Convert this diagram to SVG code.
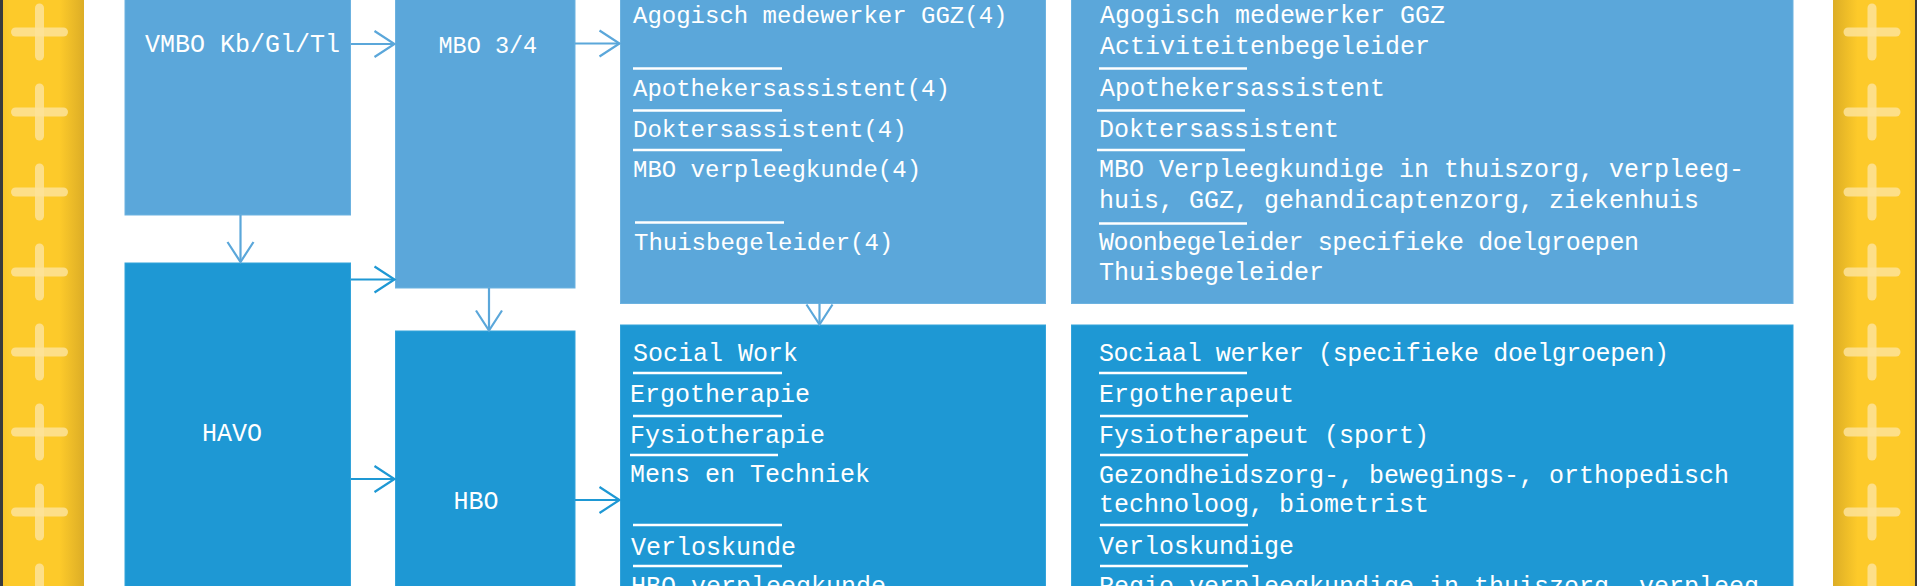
<svg xmlns="http://www.w3.org/2000/svg" width="1917" height="586" viewBox="0 0 1917 586">
  <defs>
    <style>
      .light { fill: #5ba7da; stroke: #6cb2e0; stroke-width: 1; }
      .dark { fill: #1e98d4; stroke: #33a3da; stroke-width: 1; }
      .t { font-family: "Liberation Mono", "DejaVu Sans Mono", monospace; font-size: 25px; fill: #ffffff; }
      .s24 { font-size: 24px; }
      .sep { stroke: #ffffff; stroke-width: 2.5; }
      .cl { fill: none; stroke: #5ba7da; stroke-width: 2.2; }
      .cd { fill: none; stroke: #1e98d4; stroke-width: 2.2; }
      .plus { stroke: #fde39a; stroke-width: 9; stroke-linecap: round; opacity: 0.85; }
    </style>
    <linearGradient id="gL" x1="0" y1="0" x2="1" y2="0">
      <stop offset="0" stop-color="#f8c42a"/>
      <stop offset="0.08" stop-color="#fdca2a"/>
      <stop offset="0.7" stop-color="#fdca2a"/>
      <stop offset="1" stop-color="#dcad26"/>
    </linearGradient>
    <linearGradient id="gR" x1="1" y1="0" x2="0" y2="0">
      <stop offset="0" stop-color="#f8c42a"/>
      <stop offset="0.08" stop-color="#fdca2a"/>
      <stop offset="0.7" stop-color="#fdca2a"/>
      <stop offset="1" stop-color="#dcad26"/>
    </linearGradient>
    <marker id="aL" markerUnits="userSpaceOnUse" markerWidth="30" markerHeight="30" viewBox="-25 -15 30 30" refX="0" refY="0" orient="auto">
      <path d="M-20,-13 L0,0 L-20,13" fill="none" stroke="#5ba7da" stroke-width="2.2"/>
    </marker>
    <marker id="aD" markerUnits="userSpaceOnUse" markerWidth="30" markerHeight="30" viewBox="-25 -15 30 30" refX="0" refY="0" orient="auto">
      <path d="M-20,-13 L0,0 L-20,13" fill="none" stroke="#1e98d4" stroke-width="2.2"/>
    </marker>
    <g id="plusCol">
      <line class="plus" x1="0" y1="-24" x2="0" y2="24"/>
      <line class="plus" x1="-24" y1="0" x2="24" y2="0"/>
    </g>
  </defs>

  <rect x="0" y="0" width="1917" height="586" fill="#ffffff"/>

  <g id="strip-left">
    <rect x="0" y="0" width="3" height="586" fill="#3a3a3c"/>
    <rect x="3" y="0" width="81" height="586" fill="url(#gL)"/>
    <use href="#plusCol" x="39.5" y="32"/>
    <use href="#plusCol" x="39.5" y="112"/>
    <use href="#plusCol" x="39.5" y="192"/>
    <use href="#plusCol" x="39.5" y="272"/>
    <use href="#plusCol" x="39.5" y="352"/>
    <use href="#plusCol" x="39.5" y="432"/>
    <use href="#plusCol" x="39.5" y="512"/>
    <use href="#plusCol" x="39.5" y="592"/>
  </g>

  <g id="strip-right">
    <rect x="1833" y="0" width="82" height="586" fill="url(#gR)"/>
    <rect x="1915" y="0" width="2" height="586" fill="#3a3a3c"/>
    <use href="#plusCol" x="1872" y="32"/>
    <use href="#plusCol" x="1872" y="112"/>
    <use href="#plusCol" x="1872" y="192"/>
    <use href="#plusCol" x="1872" y="272"/>
    <use href="#plusCol" x="1872" y="352"/>
    <use href="#plusCol" x="1872" y="432"/>
    <use href="#plusCol" x="1872" y="512"/>
    <use href="#plusCol" x="1872" y="592"/>
  </g>

  <g id="vmbo">
    <rect class="light" x="125" y="-10" width="225.5" height="225"/>
    <text class="t" x="145" y="51.5">VMBO Kb/Gl/Tl</text>
  </g>

  <g id="havo">
    <rect class="dark" x="125" y="263" width="225.5" height="340"/>
    <text class="t" x="202" y="440.5">HAVO</text>
  </g>

  <g id="mbo">
    <rect class="light" x="395.5" y="-10" width="179.5" height="298"/>
    <text class="t" x="438.5" y="52.5" style="font-size:23.5px">MBO 3/4</text>
  </g>

  <g id="hbo">
    <rect class="dark" x="395.5" y="331" width="179.5" height="270"/>
    <text class="t" x="453.5" y="509">HBO</text>
  </g>

  <g id="mbo-opleidingen">
    <rect class="light" x="620.5" y="-10" width="425" height="313.5"/>
    <text class="t s24" x="633" y="22.5">Agogisch medewerker GGZ(4)</text>
    <line class="sep" x1="633" y1="68.5" x2="782" y2="68.5"/>
    <text class="t s24" x="633" y="96">Apothekersassistent(4)</text>
    <line class="sep" x1="633" y1="110.5" x2="782" y2="110.5"/>
    <text class="t s24" x="633" y="136.5">Doktersassistent(4)</text>
    <line class="sep" x1="633" y1="150" x2="782" y2="150"/>
    <text class="t s24" x="633" y="176.5">MBO verpleegkunde(4)</text>
    <line class="sep" x1="635" y1="222.5" x2="784" y2="222.5"/>
    <text class="t s24" x="634" y="250">Thuisbegeleider(4)</text>
  </g>

  <g id="mbo-beroepen">
    <rect class="light" x="1071.5" y="-10" width="721.5" height="313.5"/>
    <text class="t" x="1100" y="22.5">Agogisch medewerker GGZ</text>
    <text class="t" x="1100" y="54">Activiteitenbegeleider</text>
    <line class="sep" x1="1099" y1="68.5" x2="1247" y2="68.5"/>
    <text class="t" x="1100" y="96">Apothekersassistent</text>
    <line class="sep" x1="1097" y1="110.5" x2="1245" y2="110.5"/>
    <text class="t" x="1099" y="136.5">Doktersassistent</text>
    <line class="sep" x1="1097" y1="150" x2="1245" y2="150"/>
    <text class="t" x="1099" y="176.5">MBO Verpleegkundige in thuiszorg, verpleeg-</text>
    <text class="t" x="1099" y="208">huis, GGZ, gehandicaptenzorg, ziekenhuis</text>
    <line class="sep" x1="1099" y1="223.5" x2="1247" y2="223.5"/>
    <text class="t" x="1099" y="250" textLength="540" lengthAdjust="spacing">Woonbegeleider specifieke doelgroepen</text>
    <text class="t" x="1099" y="280">Thuisbegeleider</text>
  </g>

  <g id="hbo-opleidingen">
    <rect class="dark" x="620.5" y="325" width="425" height="280"/>
    <text class="t" x="633" y="361">Social Work</text>
    <line class="sep" x1="633" y1="373" x2="782" y2="373"/>
    <text class="t" x="630" y="401.5">Ergotherapie</text>
    <line class="sep" x1="633" y1="416" x2="782" y2="416"/>
    <text class="t" x="630" y="442.5">Fysiotherapie</text>
    <line class="sep" x1="630" y1="455" x2="778" y2="455"/>
    <text class="t" x="630" y="481.5">Mens en Techniek</text>
    <line class="sep" x1="633" y1="525" x2="782" y2="525"/>
    <text class="t" x="631" y="555">Verloskunde</text>
    <line class="sep" x1="633" y1="566" x2="782" y2="566"/>
    <text class="t" x="631" y="594">HBO verpleegkunde</text>
  </g>

  <g id="hbo-beroepen">
    <rect class="dark" x="1071.5" y="325" width="721.5" height="280"/>
    <text class="t" x="1099" y="361" textLength="570" lengthAdjust="spacing">Sociaal werker (specifieke doelgroepen)</text>
    <line class="sep" x1="1099" y1="373" x2="1247" y2="373"/>
    <text class="t" x="1099" y="401.5">Ergotherapeut</text>
    <line class="sep" x1="1100" y1="416" x2="1248" y2="416"/>
    <text class="t" x="1099" y="442.5">Fysiotherapeut (sport)</text>
    <line class="sep" x1="1100" y1="455" x2="1248" y2="455"/>
    <text class="t" x="1099" y="483">Gezondheidszorg-, bewegings-, orthopedisch</text>
    <text class="t" x="1099" y="511.5">technoloog, biometrist</text>
    <line class="sep" x1="1100" y1="525" x2="1248" y2="525"/>
    <text class="t" x="1099" y="553.5">Verloskundige</text>
    <line class="sep" x1="1100" y1="566" x2="1248" y2="566"/>
    <text class="t" x="1099" y="594">Regio verpleegkundige in thuiszorg, verpleeg</text>
  </g>

  <g id="connectors">
    <line class="cl" x1="351" y1="44" x2="394.5" y2="44" marker-end="url(#aL)"/>
    <line class="cl" x1="240.5" y1="215" x2="240.5" y2="262" marker-end="url(#aL)"/>
    <line class="cd" x1="351" y1="279.5" x2="394.5" y2="279.5" marker-end="url(#aD)"/>
    <line class="cd" x1="351" y1="479" x2="394.5" y2="479" marker-end="url(#aD)"/>
    <line class="cl" x1="489" y1="288" x2="489" y2="330.5" marker-end="url(#aL)"/>
    <line class="cl" x1="575" y1="43.5" x2="619.5" y2="43.5" marker-end="url(#aL)"/>
    <line class="cd" x1="575" y1="500" x2="619.5" y2="500" marker-end="url(#aD)"/>
    <line class="cl" x1="819.5" y1="303.5" x2="819.5" y2="324.5" marker-end="url(#aL)"/>
  </g>
</svg>
